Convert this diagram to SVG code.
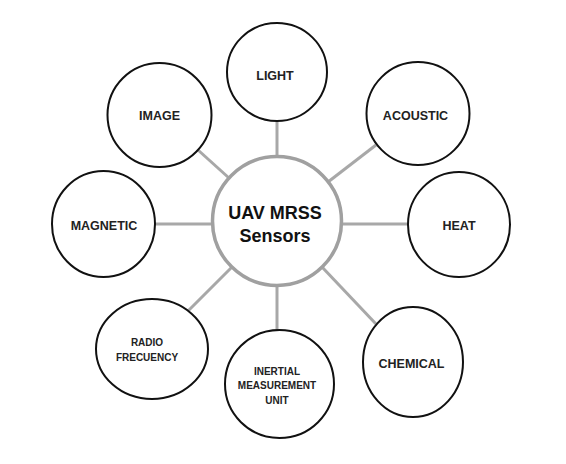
<svg xmlns="http://www.w3.org/2000/svg" width="566" height="464" viewBox="0 0 566 464">
<style>
.node{fill:#fff;stroke:#111;stroke-width:2}
.hub{fill:#fff;stroke:#a0a0a0;stroke-width:3.5}
.edge{stroke:#a8a8a8;stroke-width:3;fill:none}
text{font-family:"Liberation Sans",Arial,sans-serif;font-weight:bold;fill:#222;text-anchor:middle}
.l{font-size:12.5px}
.s{font-size:10px}
.c{font-size:18px;fill:#111}
</style>
<rect width="566" height="464" fill="#fff"/>
<g id="connectors">
<line class="edge" x1="277" y1="121" x2="277" y2="157"/>
<line class="edge" x1="198" y1="150" x2="229" y2="178"/>
<line class="edge" x1="376" y1="145" x2="328" y2="182"/>
<line class="edge" x1="155" y1="224" x2="213" y2="224"/>
<line class="edge" x1="342" y1="224" x2="408" y2="224"/>
<line class="edge" x1="188" y1="311" x2="232" y2="267"/>
<line class="edge" x1="277" y1="285" x2="277" y2="330"/>
<line class="edge" x1="376" y1="324" x2="322" y2="267"/>
</g>
<g id="hub">
<circle class="hub" cx="277" cy="221" r="64.5"/>
<text class="c" x="275" y="219">UAV MRSS</text>
<text class="c" x="275" y="242">Sensors</text>
</g>
<g id="light">
<ellipse class="node" cx="277" cy="72" rx="50" ry="49"/>
<text class="l" x="275" y="80">LIGHT</text>
</g>
<g id="image">
<ellipse class="node" cx="159.5" cy="115" rx="52" ry="52"/>
<text class="l" x="159.5" y="120">IMAGE</text>
</g>
<g id="acoustic">
<ellipse class="node" cx="418" cy="113.5" rx="51.5" ry="51.5"/>
<text class="l" x="415.5" y="119.5">ACOUSTIC</text>
</g>
<g id="magnetic">
<ellipse class="node" cx="103.5" cy="224" rx="51.5" ry="53"/>
<text class="l" x="104" y="230">MAGNETIC</text>
</g>
<g id="heat">
<ellipse class="node" cx="459" cy="224.5" rx="51" ry="52.5"/>
<text class="l" x="459" y="230">HEAT</text>
</g>
<g id="radio">
<ellipse class="node" cx="152" cy="349" rx="56" ry="50"/>
<text class="s" x="147" y="346">RADIO</text>
<text class="s" x="147" y="361">FRECUENCY</text>
</g>
<g id="inertial">
<ellipse class="node" cx="279.5" cy="384" rx="54.5" ry="54"/>
<text class="s" x="277" y="375">INERTIAL</text>
<text class="s" x="277" y="389">MEASUREMENT</text>
<text class="s" x="277" y="404">UNIT</text>
</g>
<g id="chemical">
<ellipse class="node" cx="413" cy="362" rx="50" ry="55"/>
<text class="l" x="411.5" y="368">CHEMICAL</text>
</g>
</svg>
